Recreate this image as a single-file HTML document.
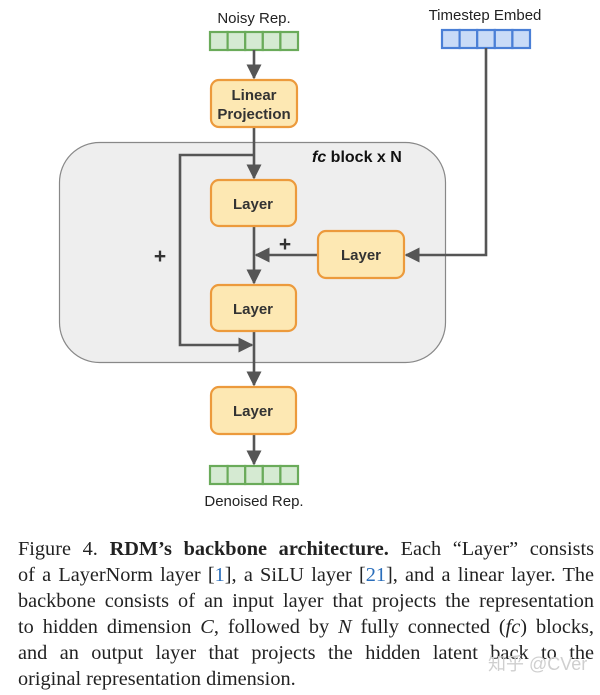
<!DOCTYPE html>
<html><head><meta charset="utf-8"><style>
html,body{margin:0;padding:0;background:#fff;}
body{width:600px;height:695px;overflow:hidden;position:relative;}
.cap{position:absolute;left:18px;width:576px;top:536px;font-family:"Liberation Serif",serif;font-size:20.3px;line-height:26px;color:#222;text-align:justify;}
.cap .l{display:block;text-align:justify;text-align-last:justify;white-space:nowrap;}
.cap .last{text-align-last:left;}
.b{color:#2a6ebb;}
</style></head><body>
<svg width="600" height="530" style="position:absolute;left:0;top:0" font-family="Liberation Sans, sans-serif">
<defs>
<marker id="ah" viewBox="0 0 10 10" markerWidth="15" markerHeight="15" refX="9" refY="5" orient="auto" markerUnits="userSpaceOnUse"><path d="M0,0 L10,5 L0,10 z" fill="#555"/></marker></defs>
<rect x="59.5" y="142.5" width="386" height="220" rx="40" fill="#eeeeee" stroke="#888" stroke-width="1.2"/>
<text x="254" y="23" text-anchor="middle" font-size="15" fill="#222">Noisy Rep.</text>
<text x="485" y="20" text-anchor="middle" font-size="15" fill="#222">Timestep Embed</text>
<g fill="#d5ead2" stroke="#6aab5a" stroke-width="2.2">
<rect x="210" y="32" width="17.6" height="18"/><rect x="227.6" y="32" width="17.6" height="18"/><rect x="245.2" y="32" width="17.6" height="18"/><rect x="262.8" y="32" width="17.6" height="18"/><rect x="280.4" y="32" width="17.6" height="18"/>
<rect x="210" y="466" width="17.6" height="18"/><rect x="227.6" y="466" width="17.6" height="18"/><rect x="245.2" y="466" width="17.6" height="18"/><rect x="262.8" y="466" width="17.6" height="18"/><rect x="280.4" y="466" width="17.6" height="18"/>
</g>
<g fill="#c9dbf7" stroke="#4a7fd6" stroke-width="2.2">
<rect x="442" y="30" width="17.6" height="18"/><rect x="459.6" y="30" width="17.6" height="18"/><rect x="477.2" y="30" width="17.6" height="18"/><rect x="494.8" y="30" width="17.6" height="18"/><rect x="512.4" y="30" width="17.6" height="18"/>
</g>
<g stroke="#555" stroke-width="2.6" fill="none">
<line x1="254" y1="50" x2="254" y2="78" marker-end="url(#ah)"/>
<line x1="254" y1="127" x2="254" y2="178" marker-end="url(#ah)"/>
<polyline points="254,155 180,155 180,345 252,345" marker-end="url(#ah)"/>
<line x1="254" y1="226" x2="254" y2="283" marker-end="url(#ah)"/>
<line x1="318" y1="255" x2="256" y2="255" marker-end="url(#ah)"/>
<polyline points="486,48 486,255 406,255" marker-end="url(#ah)"/>
<line x1="254" y1="331" x2="254" y2="385" marker-end="url(#ah)"/>
<line x1="254" y1="434" x2="254" y2="464" marker-end="url(#ah)"/>
</g>
<g fill="#fde8b3" stroke="#ec9a3c" stroke-width="2.2">
<rect x="211" y="80" width="86" height="47" rx="8"/>
<rect x="211" y="180" width="85" height="46" rx="8"/>
<rect x="318" y="231" width="86" height="47" rx="8"/>
<rect x="211" y="285" width="85" height="46" rx="8"/>
<rect x="211" y="387" width="85" height="47" rx="8"/>
</g>
<g font-size="15" font-weight="bold" fill="#333" text-anchor="middle">
<text x="254" y="100">Linear</text><text x="254" y="119">Projection</text>
<text x="253" y="209">Layer</text>
<text x="361" y="260">Layer</text>
<text x="253" y="314">Layer</text>
<text x="253" y="416">Layer</text>
<text x="160" y="263" font-size="21">+</text>
<text x="285" y="251" font-size="21">+</text>
</g>
<text x="312" y="162" font-size="16" font-weight="bold" fill="#111"><tspan font-style="italic">fc</tspan> block x N</text>
<text x="254" y="506" text-anchor="middle" font-size="15" fill="#222">Denoised Rep.</text>
</svg>
<div class="cap">
<span class="l">Figure 4. <b>RDM’s backbone architecture.</b> Each “Layer” consists</span>
<span class="l">of a LayerNorm layer [<span class="b">1</span>], a SiLU layer [<span class="b">21</span>], and a linear layer. The</span>
<span class="l">backbone consists of an input layer that projects the representation</span>
<span class="l">to hidden dimension <i>C</i>, followed by <i>N</i> fully connected (<i>fc</i>) blocks,</span>
<span class="l">and an output layer that projects the hidden latent back to the</span>
<span class="l last">original representation dimension.</span>
</div>
<div style="position:absolute;left:488px;top:650px;font-family:'Liberation Sans','Noto Sans CJK SC',sans-serif;font-size:18px;color:#cfcfcf;">知乎 @CVer</div>
</body></html>
